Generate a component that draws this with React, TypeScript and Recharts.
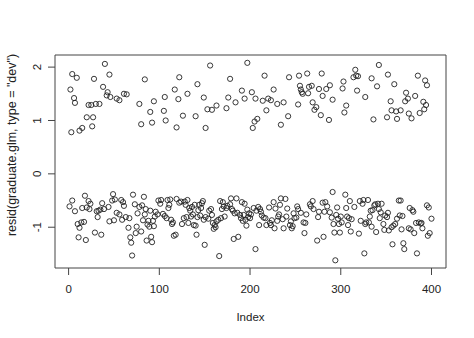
import React from 'react';
import { ScatterChart, Scatter, XAxis, YAxis, ReferenceArea } from 'recharts';

// deviance residuals of graduate.glm as [index, resid]
const upperPts: [number, number][] = [
  [2, 1.58], [3, 0.78], [4, 1.87], [6, 1.42], [7, 1.33], [9, 1.8], [12, 0.81], [15, 0.86],
  [20, 1.06], [22, 1.29], [25, 1.29], [26, 0.89], [27, 1.06], [28, 1.78], [30, 1.31], [34, 1.31],
  [38, 1.63], [40, 2.06], [42, 1.47], [43, 1.53], [45, 1.86], [46, 1.44], [53, 1.41], [56, 1.38],
  [61, 1.5], [64, 1.49], [78, 1.31], [80, 0.93], [84, 1.77], [90, 1.16], [92, 0.96], [94, 1.36],
  [105, 1.18], [106, 1.44], [107, 1.0], [117, 1.58], [119, 0.87], [121, 1.4], [122, 1.81], [126, 1.09],
  [131, 1.5], [140, 1.08], [142, 1.68], [149, 1.43], [151, 0.86], [153, 1.21], [156, 2.03], [158, 1.2],
  [163, 1.28], [174, 1.23], [176, 1.43], [178, 1.78], [184, 1.34], [191, 1.56], [194, 1.41],
  [197, 2.08], [202, 1.53], [203, 0.86], [205, 0.98], [206, 1.41], [208, 1.03], [214, 1.37], [216, 1.84],
  [218, 1.19], [220, 1.41], [223, 1.38], [226, 1.58], [230, 1.31], [234, 0.92], [237, 1.34], [242, 1.08],
  [243, 1.81], [253, 1.3], [254, 1.84], [255, 1.65], [256, 1.58], [257, 1.53], [258, 1.5], [263, 1.88],
  [264, 1.51], [265, 1.63], [268, 1.65], [269, 1.34], [271, 1.2], [273, 1.25], [276, 1.59], [278, 1.1],
  [279, 1.88], [280, 1.46], [284, 1.59], [287, 1.01], [288, 1.66], [291, 1.39],
  [302, 1.6], [303, 1.73], [304, 1.15], [306, 1.28], [314, 1.81], [316, 1.95], [317, 1.84], [318, 1.56],
  [319, 1.83], [327, 1.44], [334, 1.79], [336, 1.02], [340, 1.64], [342, 2.04], [351, 1.06], [352, 1.86],
  [355, 1.36], [356, 1.19], [359, 1.68], [361, 1.17], [362, 1.03], [366, 1.19], [371, 1.36], [372, 1.52],
  [374, 1.41], [375, 1.13], [378, 1.04], [382, 1.46], [385, 1.84], [387, 1.14], [391, 1.35], [392, 1.21],
  [393, 1.75], [394, 1.29], [395, 1.66],
];

const lowerPts: [number, number][] = [
  [1, -0.61], [4, -0.5], [7, -0.7], [10, -0.94], [11, -1.19], [12, -1.01], [14, -0.91], [15, -0.64],
  [17, -0.9], [18, -0.41], [19, -1.24], [20, -0.63], [22, -0.51], [23, -0.66], [24, -0.56], [29, -1.1],
  [31, -0.7], [32, -0.81], [33, -0.69], [35, -0.67], [36, -1.14], [37, -0.55], [39, -0.66], [44, -0.62],
  [45, -0.89], [48, -0.5], [49, -0.38], [50, -0.87], [51, -0.48], [53, -0.73], [56, -0.76], [58, -0.49],
  [59, -0.86], [60, -0.53], [61, -0.6], [63, -0.81], [66, -1.01], [67, -0.83], [68, -1.19], [69, -1.29],
  [70, -1.53], [71, -0.39], [73, -0.57], [74, -1.11], [75, -0.99], [76, -0.74], [78, -0.62], [80, -1.08],
  [81, -0.59], [82, -0.87], [83, -0.43], [84, -0.76], [85, -0.66], [86, -1.25], [87, -0.95], [88, -0.88],
  [89, -0.99], [90, -0.69], [91, -1.18], [92, -1.28], [93, -0.88], [94, -0.98], [95, -0.8], [96, -0.71],
  [98, -0.76], [99, -0.5], [101, -0.56], [102, -0.49], [104, -0.75], [106, -0.79], [108, -0.83], [109, -0.49],
  [110, -0.64], [111, -0.58], [112, -0.48], [113, -0.86], [114, -0.94], [115, -0.91], [116, -1.16], [118, -1.14],
  [119, -0.47], [122, -0.54], [124, -0.52], [125, -0.94], [127, -0.83], [128, -0.52], [129, -0.58], [130, -0.81],
  [131, -0.49], [132, -0.92], [133, -0.64], [134, -0.69], [135, -0.8], [136, -0.62], [137, -0.76], [138, -0.96],
  [139, -0.58], [140, -0.97], [141, -1.14], [142, -0.81], [143, -0.68], [144, -0.58], [145, -0.78], [146, -0.64],
  [147, -0.55], [148, -0.51], [149, -0.86], [150, -1.33], [151, -0.81], [154, -0.84], [155, -0.69], [157, -0.66],
  [158, -0.77], [159, -0.92], [160, -1.03], [161, -0.96], [162, -1.0], [163, -0.89], [165, -0.86], [166, -1.54],
  [167, -0.51], [168, -0.83], [169, -0.66], [170, -0.53], [171, -0.61], [172, -0.8], [174, -0.64], [175, -0.6],
  [178, -0.57], [179, -0.46], [180, -0.66], [181, -0.69], [182, -1.22], [183, -0.74], [185, -0.46], [186, -0.73],
  [187, -1.18], [189, -0.77], [190, -0.83], [191, -0.53], [192, -0.88], [193, -0.77], [194, -0.56], [195, -0.86],
  [196, -0.97], [197, -0.67], [198, -0.81], [199, -0.74], [200, -0.83], [201, -0.76], [204, -0.64], [206, -1.41],
  [207, -0.69], [209, -0.62], [210, -0.96], [211, -0.66], [212, -0.71], [213, -0.78], [215, -0.82], [217, -0.83],
  [218, -0.96], [221, -0.63], [222, -0.92], [223, -0.96], [224, -0.87], [226, -0.53], [227, -1.02], [228, -0.65],
  [230, -0.88], [231, -0.8], [232, -0.76], [233, -0.58], [234, -0.46], [236, -0.85], [237, -1.02], [239, -0.47],
  [240, -0.8], [241, -0.65], [244, -0.96], [245, -0.89], [246, -1.02], [247, -0.98], [248, -0.74], [249, -0.83],
  [251, -0.82], [252, -0.61], [253, -0.66], [256, -0.73], [259, -0.91], [260, -1.11], [261, -0.92], [262, -0.76],
  [266, -0.57], [267, -0.61], [269, -0.51], [270, -0.66], [274, -1.25], [275, -0.81], [276, -0.71], [280, -0.54],
  [281, -1.18], [282, -0.71], [283, -0.53], [285, -0.61], [288, -0.72], [290, -0.82], [291, -0.34], [292, -0.94],
  [293, -1.1], [294, -1.62], [295, -0.77], [296, -0.63], [297, -0.84], [298, -0.94], [299, -1.1], [300, -0.8],
  [301, -0.91], [305, -0.39], [306, -0.64], [307, -0.8], [308, -0.96], [309, -0.83], [310, -0.51], [311, -1.08],
  [312, -0.85], [315, -0.62], [320, -1.12], [321, -0.51], [322, -0.88], [324, -0.56], [325, -0.49], [326, -1.49],
  [327, -0.94], [328, -0.91], [330, -0.49], [331, -0.91], [332, -0.8], [333, -0.69], [334, -0.99], [335, -0.68],
  [337, -0.59], [338, -0.57], [339, -1.09], [341, -0.56], [342, -0.66], [343, -0.83], [344, -0.72], [345, -0.56],
  [347, -0.94], [348, -1.05], [349, -0.78], [351, -0.81], [352, -0.73], [353, -1.06], [356, -1.0], [357, -1.32],
  [358, -0.97], [360, -0.94], [362, -0.84], [364, -0.5], [365, -0.78], [366, -0.5], [367, -1.04], [368, -0.79],
  [369, -1.3], [370, -1.41], [375, -1.02], [376, -0.64], [377, -1.04], [379, -0.68], [380, -0.71], [381, -1.11],
  [383, -0.92], [384, -1.49], [386, -0.91], [388, -0.93], [389, -0.92], [390, -1.02], [395, -0.59], [396, -1.16],
  [397, -0.63], [398, -1.11], [400, -0.84],
];

const xTicks = [0, 100, 200, 300, 400];
const yTicks = [-1, 0, 1, 2];

// R pads the data range by 4% on each side
const xDomain: [number, number] = [-15, 416];
const yDomain: [number, number] = [-1.764, 2.227];

const FONT = '"Liberation Sans", Arial, sans-serif';
const INK = '#222';

const data = [...upperPts, ...lowerPts]
  .sort((a, b) => a[0] - b[0])
  .map(([index, resid]) => ({ index, resid }));

const Ring = (p: any) => (
  <circle cx={p.cx} cy={p.cy} r={2.6} fill="none" stroke={INK} strokeWidth={0.9} />
);

const YTick = (p: any) => {
  const bx = 41;
  return (
    <text
      x={bx}
      y={p.y}
      transform={`rotate(-90, ${bx}, ${p.y})`}
      textAnchor="middle"
      fontSize={11.5}
      fontFamily={FONT}
      fill={INK}
    >
      {p.payload.value}
    </text>
  );
};

const XTitle = (p: any) => {
  const vb = p.viewBox;
  return (
    <text x={vb.x + vb.width / 2} y={321} textAnchor="middle" fontSize={11.5} fontFamily={FONT} fill={INK}>
      Index
    </text>
  );
};

const YTitle = () => (
  <text
    x={16}
    y={145}
    transform="rotate(-90, 16, 145)"
    textAnchor="middle"
    fontSize={12.5}
    fontFamily={FONT}
    fill={INK}
  >
    resid(graduate.glm, type = "dev")
  </text>
);

export default function App() {
  return (
    <div style={{ position: 'absolute', left: 0, top: 0, width: 474, height: 338, background: '#fff' }}>
      <ScatterChart width={474} height={338} margin={{ top: 55, right: 28, bottom: 0, left: 0 }}>
        <XAxis
          dataKey="index"
          type="number"
          domain={xDomain}
          ticks={xTicks}
          allowDataOverflow
          axisLine={false}
          tickSize={7}
          tickMargin={10}
          height={70}
          stroke="#444"
          tick={{ fontSize: 11.5, fontFamily: FONT, fill: INK }}
          label={<XTitle />}
        />
        <YAxis
          dataKey="resid"
          type="number"
          domain={yDomain}
          ticks={yTicks}
          allowDataOverflow
          axisLine={false}
          tickSize={7}
          width={55}
          stroke="#444"
          tick={<YTick />}
          label={<YTitle />}
        />
        <ReferenceArea
          x1={xDomain[0]}
          x2={xDomain[1]}
          y1={yDomain[0]}
          y2={yDomain[1]}
          fill="none"
          fillOpacity={0}
          stroke="#444"
          strokeWidth={1}
        />
        <Scatter data={data} shape={<Ring />} isAnimationActive={false} />
      </ScatterChart>
    </div>
  );
}
